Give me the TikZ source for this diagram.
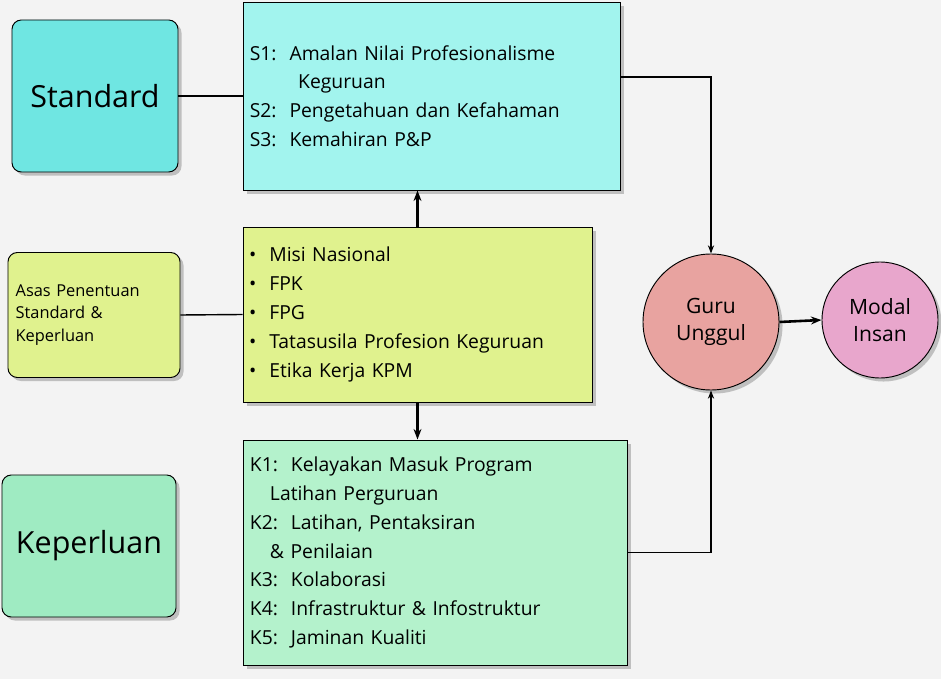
\documentclass[tikz,border=0pt]{standalone}
\usepackage{fontspec}
\setmainfont{Open Sans}
\usetikzlibrary{shadows,arrows.meta,calc}
\definecolor{bgcol}{HTML}{F3F3F3}
\definecolor{stdcol}{HTML}{6FE6E2}
\definecolor{scol}{HTML}{A2F4EE}
\definecolor{yelcol}{HTML}{E0F28E}
\definecolor{kepcol}{HTML}{9FEBC2}
\definecolor{kcol}{HTML}{B4F2CC}
\definecolor{gurucol}{HTML}{E8A3A0}
\definecolor{modalcol}{HTML}{E8A6CC}
\tikzset{
  box/.style={draw, thick, drop shadow={opacity=0.45, shadow xshift=3pt, shadow yshift=-3pt}},
  rbox/.style={box, rounded corners=8pt},
  txt/.style={font=\fontsize{16.5}{24.6}\selectfont, align=left, text width=#1},
  circ/.style={circle, draw, thick, font=\fontsize{18}{23}\selectfont, align=center,
    drop shadow={opacity=0.45, shadow xshift=3pt, shadow yshift=-3pt}},
  link/.style={line width=1.2pt},
  thin arrow/.style={-{Stealth[length=7pt]}},
  fat arrow/.style={line width=2.2pt, -{Stealth[length=9pt]}}
}
\begin{document}
\begin{tikzpicture}[x=0.03cm,y=-0.03cm]
\fill[bgcol] (0,0) rectangle (941,679);
\useasboundingbox (0,0) rectangle (941,679);
% left column
\node[rbox, fill=stdcol, minimum width=4.98cm, minimum height=4.56cm,
  font=\fontsize{26}{30}\selectfont] (std) at (95,96) {Standard};
\node[rbox, fill=yelcol, minimum width=5.16cm, minimum height=3.75cm,
  txt=4.7cm, font=\fontsize{14}{19}\selectfont] (asas) at (94,315)
  {Asas Penentuan\\Standard \&\\Keperluan};
\node[rbox, fill=kepcol, minimum width=5.22cm, minimum height=4.26cm,
  font=\fontsize{26}{30}\selectfont] (kep) at (89,546) {Keperluan};
% middle column
\node[box, fill=scol, minimum width=11.31cm, minimum height=5.64cm, txt=10.9cm] (s) at (431.5,96)
  {S1:\ \ Amalan Nilai Profesionalisme\\\hspace{1.45cm}Keguruan\\
   S2:\ \ Pengetahuan dan Kefahaman\\S3:\ \ Kemahiran P\&P\\[0.5cm]};
\node[box, fill=yelcol, minimum width=10.47cm, minimum height=5.25cm, txt=10.1cm] (mid) at (417.5,314.5)
  {\textbullet\ \ Misi Nasional\\\textbullet\ \ FPK\\\textbullet\ \ FPG\\
   \textbullet\ \ Tatasusila Profesion Keguruan\\\textbullet\ \ Etika Kerja KPM};
\node[box, fill=kcol, minimum width=11.52cm, minimum height=6.75cm, txt=11.1cm] (k) at (435,552.5)
  {K1:\ \ Kelayakan Masuk Program\\\hspace{0.6cm}Latihan Perguruan\\
   K2:\ \ Latihan, Pentaksiran\\\hspace{0.6cm}\& Penilaian\\
   K3:\ \ Kolaborasi\\K4:\ \ Infrastruktur \& Infostruktur\\K5:\ \ Jaminan Kualiti};
% right column
\node[circ, fill=gurucol, minimum size=4.08cm] (guru) at (711,322) {Guru\\Unggul};
\node[circ, fill=modalcol, minimum size=3.48cm] (modal) at (880,320) {Modal\\Insan};
% connectors
\draw[link] (std.east) -- (s.west);
\draw[link] (asas.east) -- (mid.west);
\draw[fat arrow] (mid.north) -- (mid.north|-s.south);
\draw[fat arrow] (mid.south) -- (mid.south|-k.north);
\draw[link, thin arrow] ($(s.north east)!0.4!(s.south east)$) -| (guru.north);
\draw[link, thin arrow] (k.east) -| (guru.south);
\draw[fat arrow] (guru.east) -- (modal.west);
\end{tikzpicture}
\end{document}
